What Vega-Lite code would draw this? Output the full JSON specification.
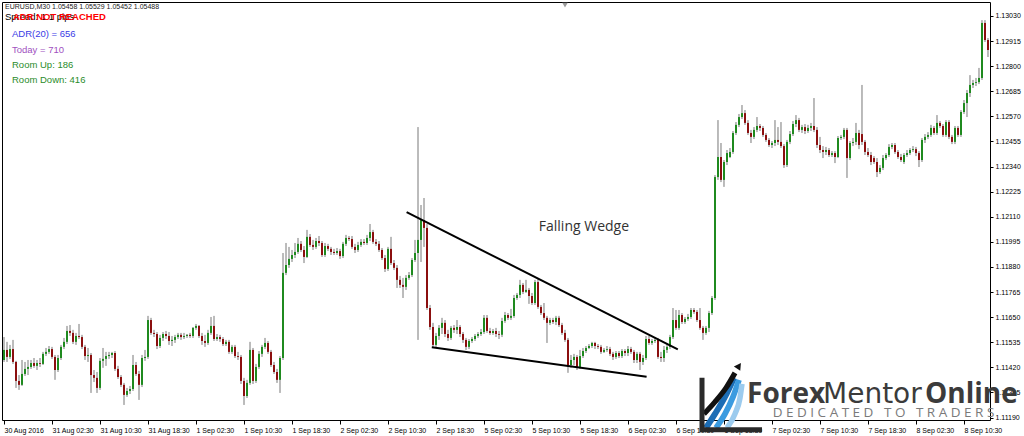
{
  "$schema": "https://vega.github.io/schema/vega-lite/v6.json",
  "width": 988,
  "height": 418,
  "autosize": {"type": "none"},
  "padding": {"left": 2, "top": 2, "right": 34, "bottom": 16},
  "background": "#ffffff",
  "config": {
    "view": {"stroke": "#000000", "strokeWidth": 1},
    "font": "Liberation Sans",
    "axis": {"labelOverlap": false, "labelFlush": false, "labelBound": false}
  },
  "datasets": {
    "candles": [
      {"i":0,"o":1.11454,"h":1.11559,"l":1.11445,"c":1.11500},
      {"i":1,"o":1.11500,"h":1.11537,"l":1.11445,"c":1.11468},
      {"i":2,"o":1.11468,"h":1.11523,"l":1.11459,"c":1.11504},
      {"i":3,"o":1.11504,"h":1.11546,"l":1.11436,"c":1.11445},
      {"i":4,"o":1.11445,"h":1.11450,"l":1.11326,"c":1.11358},
      {"i":5,"o":1.11358,"h":1.11385,"l":1.11317,"c":1.11340},
      {"i":6,"o":1.11340,"h":1.11454,"l":1.11335,"c":1.11390},
      {"i":7,"o":1.11390,"h":1.11445,"l":1.11381,"c":1.11413},
      {"i":8,"o":1.11413,"h":1.11454,"l":1.11385,"c":1.11422},
      {"i":9,"o":1.11422,"h":1.11454,"l":1.11413,"c":1.11440},
      {"i":10,"o":1.11440,"h":1.11463,"l":1.11418,"c":1.11427},
      {"i":11,"o":1.11427,"h":1.11454,"l":1.11408,"c":1.11440},
      {"i":12,"o":1.11440,"h":1.11463,"l":1.11422,"c":1.11436},
      {"i":13,"o":1.11436,"h":1.11491,"l":1.11431,"c":1.11482},
      {"i":14,"o":1.11482,"h":1.11509,"l":1.11472,"c":1.11491},
      {"i":15,"o":1.11491,"h":1.11518,"l":1.11482,"c":1.11504},
      {"i":16,"o":1.11504,"h":1.11514,"l":1.11459,"c":1.11468},
      {"i":17,"o":1.11468,"h":1.11477,"l":1.11363,"c":1.11408},
      {"i":18,"o":1.11408,"h":1.11477,"l":1.11399,"c":1.11463},
      {"i":19,"o":1.11463,"h":1.11523,"l":1.11454,"c":1.11514},
      {"i":20,"o":1.11514,"h":1.11555,"l":1.11504,"c":1.11537},
      {"i":21,"o":1.11537,"h":1.11610,"l":1.11527,"c":1.11587},
      {"i":22,"o":1.11587,"h":1.11614,"l":1.11564,"c":1.11578},
      {"i":23,"o":1.11578,"h":1.11592,"l":1.11527,"c":1.11537},
      {"i":24,"o":1.11537,"h":1.11578,"l":1.11523,"c":1.11564},
      {"i":25,"o":1.11564,"h":1.11619,"l":1.11550,"c":1.11559},
      {"i":26,"o":1.11559,"h":1.11569,"l":1.11504,"c":1.11514},
      {"i":27,"o":1.11514,"h":1.11523,"l":1.11454,"c":1.11472},
      {"i":28,"o":1.11472,"h":1.11509,"l":1.11445,"c":1.11477},
      {"i":29,"o":1.11477,"h":1.11486,"l":1.11303,"c":1.11385},
      {"i":30,"o":1.11385,"h":1.11408,"l":1.11353,"c":1.11372},
      {"i":31,"o":1.11372,"h":1.11399,"l":1.11303,"c":1.11326},
      {"i":32,"o":1.11326,"h":1.11463,"l":1.11317,"c":1.11450},
      {"i":33,"o":1.11450,"h":1.11509,"l":1.11418,"c":1.11459},
      {"i":34,"o":1.11459,"h":1.11491,"l":1.11427,"c":1.11472},
      {"i":35,"o":1.11472,"h":1.11491,"l":1.11459,"c":1.11477},
      {"i":36,"o":1.11477,"h":1.11491,"l":1.11463,"c":1.11486},
      {"i":37,"o":1.11486,"h":1.11495,"l":1.11404,"c":1.11413},
      {"i":38,"o":1.11413,"h":1.11427,"l":1.11367,"c":1.11376},
      {"i":39,"o":1.11376,"h":1.11385,"l":1.11330,"c":1.11340},
      {"i":40,"o":1.11340,"h":1.11349,"l":1.11248,"c":1.11294},
      {"i":41,"o":1.11294,"h":1.11326,"l":1.11285,"c":1.11312},
      {"i":42,"o":1.11312,"h":1.11335,"l":1.11298,"c":1.11321},
      {"i":43,"o":1.11321,"h":1.11477,"l":1.11312,"c":1.11431},
      {"i":44,"o":1.11431,"h":1.11445,"l":1.11381,"c":1.11390},
      {"i":45,"o":1.11390,"h":1.11404,"l":1.11271,"c":1.11340},
      {"i":46,"o":1.11340,"h":1.11477,"l":1.11330,"c":1.11463},
      {"i":47,"o":1.11463,"h":1.11500,"l":1.11450,"c":1.11468},
      {"i":48,"o":1.11468,"h":1.11656,"l":1.11459,"c":1.11637},
      {"i":49,"o":1.11637,"h":1.11647,"l":1.11569,"c":1.11578},
      {"i":50,"o":1.11578,"h":1.11592,"l":1.11559,"c":1.11573},
      {"i":51,"o":1.11573,"h":1.11582,"l":1.11504,"c":1.11518},
      {"i":52,"o":1.11518,"h":1.11569,"l":1.11509,"c":1.11555},
      {"i":53,"o":1.11555,"h":1.11582,"l":1.11541,"c":1.11573},
      {"i":54,"o":1.11573,"h":1.11587,"l":1.11550,"c":1.11564},
      {"i":55,"o":1.11564,"h":1.11582,"l":1.11523,"c":1.11541},
      {"i":56,"o":1.11541,"h":1.11564,"l":1.11518,"c":1.11546},
      {"i":57,"o":1.11546,"h":1.11569,"l":1.11532,"c":1.11559},
      {"i":58,"o":1.11559,"h":1.11578,"l":1.11550,"c":1.11569},
      {"i":59,"o":1.11569,"h":1.11578,"l":1.11546,"c":1.11559},
      {"i":60,"o":1.11559,"h":1.11578,"l":1.11550,"c":1.11564},
      {"i":61,"o":1.11564,"h":1.11573,"l":1.11555,"c":1.11569},
      {"i":62,"o":1.11569,"h":1.11578,"l":1.11555,"c":1.11564},
      {"i":63,"o":1.11564,"h":1.11605,"l":1.11555,"c":1.11601},
      {"i":64,"o":1.11601,"h":1.11619,"l":1.11592,"c":1.11610},
      {"i":65,"o":1.11610,"h":1.11614,"l":1.11555,"c":1.11564},
      {"i":66,"o":1.11564,"h":1.11578,"l":1.11523,"c":1.11541},
      {"i":67,"o":1.11541,"h":1.11569,"l":1.11514,"c":1.11532},
      {"i":68,"o":1.11532,"h":1.11592,"l":1.11523,"c":1.11578},
      {"i":69,"o":1.11578,"h":1.11651,"l":1.11569,"c":1.11610},
      {"i":70,"o":1.11610,"h":1.11656,"l":1.11541,"c":1.11550},
      {"i":71,"o":1.11550,"h":1.11573,"l":1.11541,"c":1.11559},
      {"i":72,"o":1.11559,"h":1.11569,"l":1.11537,"c":1.11550},
      {"i":73,"o":1.11550,"h":1.11559,"l":1.11518,"c":1.11527},
      {"i":74,"o":1.11527,"h":1.11546,"l":1.11518,"c":1.11537},
      {"i":75,"o":1.11537,"h":1.11546,"l":1.11482,"c":1.11491},
      {"i":76,"o":1.11491,"h":1.11523,"l":1.11482,"c":1.11514},
      {"i":77,"o":1.11514,"h":1.11523,"l":1.11463,"c":1.11472},
      {"i":78,"o":1.11472,"h":1.11491,"l":1.11454,"c":1.11468},
      {"i":79,"o":1.11468,"h":1.11477,"l":1.11344,"c":1.11358},
      {"i":80,"o":1.11358,"h":1.11372,"l":1.11248,"c":1.11289},
      {"i":81,"o":1.11289,"h":1.11363,"l":1.11280,"c":1.11349},
      {"i":82,"o":1.11349,"h":1.11537,"l":1.11340,"c":1.11500},
      {"i":83,"o":1.11500,"h":1.11509,"l":1.11344,"c":1.11358},
      {"i":84,"o":1.11358,"h":1.11436,"l":1.11349,"c":1.11422},
      {"i":85,"o":1.11422,"h":1.11495,"l":1.11413,"c":1.11482},
      {"i":86,"o":1.11482,"h":1.11523,"l":1.11468,"c":1.11514},
      {"i":87,"o":1.11514,"h":1.11555,"l":1.11504,"c":1.11532},
      {"i":88,"o":1.11532,"h":1.11541,"l":1.11482,"c":1.11491},
      {"i":89,"o":1.11491,"h":1.11500,"l":1.11422,"c":1.11431},
      {"i":90,"o":1.11431,"h":1.11445,"l":1.11390,"c":1.11399},
      {"i":91,"o":1.11399,"h":1.11413,"l":1.11349,"c":1.11363},
      {"i":92,"o":1.11363,"h":1.11472,"l":1.11303,"c":1.11463},
      {"i":93,"o":1.11463,"h":1.11944,"l":1.11454,"c":1.11853},
      {"i":94,"o":1.11853,"h":1.11990,"l":1.11843,"c":1.11889},
      {"i":95,"o":1.11889,"h":1.11972,"l":1.11876,"c":1.11917},
      {"i":96,"o":1.11917,"h":1.11958,"l":1.11903,"c":1.11935},
      {"i":97,"o":1.11935,"h":1.11990,"l":1.11921,"c":1.11949},
      {"i":98,"o":1.11949,"h":1.12013,"l":1.11940,"c":1.11986},
      {"i":99,"o":1.11986,"h":1.11999,"l":1.11949,"c":1.11958},
      {"i":100,"o":1.11958,"h":1.11976,"l":1.11898,"c":1.11926},
      {"i":101,"o":1.11926,"h":1.12050,"l":1.11921,"c":1.12018},
      {"i":102,"o":1.12018,"h":1.12031,"l":1.11972,"c":1.11981},
      {"i":103,"o":1.11981,"h":1.12004,"l":1.11958,"c":1.11972},
      {"i":104,"o":1.11972,"h":1.12013,"l":1.11963,"c":1.11999},
      {"i":105,"o":1.11999,"h":1.12022,"l":1.11976,"c":1.11990},
      {"i":106,"o":1.11990,"h":1.11999,"l":1.11926,"c":1.11935},
      {"i":107,"o":1.11935,"h":1.11990,"l":1.11926,"c":1.11976},
      {"i":108,"o":1.11976,"h":1.11986,"l":1.11953,"c":1.11963},
      {"i":109,"o":1.11963,"h":1.11972,"l":1.11935,"c":1.11949},
      {"i":110,"o":1.11949,"h":1.11963,"l":1.11935,"c":1.11944},
      {"i":111,"o":1.11944,"h":1.11967,"l":1.11935,"c":1.11953},
      {"i":112,"o":1.11953,"h":1.11963,"l":1.11917,"c":1.11930},
      {"i":113,"o":1.11930,"h":1.11995,"l":1.11921,"c":1.11986},
      {"i":114,"o":1.11986,"h":1.12027,"l":1.11976,"c":1.12013},
      {"i":115,"o":1.12013,"h":1.12022,"l":1.11999,"c":1.12008},
      {"i":116,"o":1.12008,"h":1.12022,"l":1.11963,"c":1.11972},
      {"i":117,"o":1.11972,"h":1.11986,"l":1.11944,"c":1.11958},
      {"i":118,"o":1.11958,"h":1.11995,"l":1.11949,"c":1.11981},
      {"i":119,"o":1.11981,"h":1.12008,"l":1.11972,"c":1.11995},
      {"i":120,"o":1.11995,"h":1.12008,"l":1.11981,"c":1.11990},
      {"i":121,"o":1.11990,"h":1.12027,"l":1.11981,"c":1.12013},
      {"i":122,"o":1.12013,"h":1.12077,"l":1.11999,"c":1.12040},
      {"i":123,"o":1.12040,"h":1.12050,"l":1.11986,"c":1.11995},
      {"i":124,"o":1.11995,"h":1.12008,"l":1.11976,"c":1.11986},
      {"i":125,"o":1.11986,"h":1.11999,"l":1.11949,"c":1.11958},
      {"i":126,"o":1.11958,"h":1.11967,"l":1.11912,"c":1.11921},
      {"i":127,"o":1.11921,"h":1.11935,"l":1.11857,"c":1.11871},
      {"i":128,"o":1.11871,"h":1.11972,"l":1.11862,"c":1.11963},
      {"i":129,"o":1.11963,"h":1.12018,"l":1.11889,"c":1.11898},
      {"i":130,"o":1.11898,"h":1.11912,"l":1.11866,"c":1.11876},
      {"i":131,"o":1.11876,"h":1.11889,"l":1.11784,"c":1.11821},
      {"i":132,"o":1.11821,"h":1.11839,"l":1.11784,"c":1.11798},
      {"i":133,"o":1.11798,"h":1.11830,"l":1.11738,"c":1.11789},
      {"i":134,"o":1.11789,"h":1.11843,"l":1.11775,"c":1.11830},
      {"i":135,"o":1.11830,"h":1.11857,"l":1.11821,"c":1.11843},
      {"i":136,"o":1.11843,"h":1.11921,"l":1.11834,"c":1.11912},
      {"i":137,"o":1.11912,"h":1.12004,"l":1.11903,"c":1.11944},
      {"i":138,"o":1.11944,"h":1.12521,"l":1.11546,"c":1.12004},
      {"i":139,"o":1.12004,"h":1.12164,"l":1.11903,"c":1.12095},
      {"i":140,"o":1.12095,"h":1.12196,"l":1.11972,"c":1.12059},
      {"i":141,"o":1.12059,"h":1.12077,"l":1.11683,"c":1.11692},
      {"i":142,"o":1.11692,"h":1.11706,"l":1.11592,"c":1.11605},
      {"i":143,"o":1.11605,"h":1.11624,"l":1.11509,"c":1.11523},
      {"i":144,"o":1.11523,"h":1.11578,"l":1.11514,"c":1.11564},
      {"i":145,"o":1.11564,"h":1.11614,"l":1.11546,"c":1.11601},
      {"i":146,"o":1.11601,"h":1.11647,"l":1.11573,"c":1.11624},
      {"i":147,"o":1.11624,"h":1.11637,"l":1.11559,"c":1.11573},
      {"i":148,"o":1.11573,"h":1.11592,"l":1.11541,"c":1.11555},
      {"i":149,"o":1.11555,"h":1.11610,"l":1.11546,"c":1.11601},
      {"i":150,"o":1.11601,"h":1.11614,"l":1.11578,"c":1.11592},
      {"i":151,"o":1.11592,"h":1.11637,"l":1.11573,"c":1.11605},
      {"i":152,"o":1.11605,"h":1.11614,"l":1.11559,"c":1.11573},
      {"i":153,"o":1.11573,"h":1.11582,"l":1.11532,"c":1.11546},
      {"i":154,"o":1.11546,"h":1.11555,"l":1.11500,"c":1.11514},
      {"i":155,"o":1.11514,"h":1.11550,"l":1.11504,"c":1.11541},
      {"i":156,"o":1.11541,"h":1.11559,"l":1.11532,"c":1.11550},
      {"i":157,"o":1.11550,"h":1.11573,"l":1.11541,"c":1.11564},
      {"i":158,"o":1.11564,"h":1.11582,"l":1.11555,"c":1.11573},
      {"i":159,"o":1.11573,"h":1.11596,"l":1.11564,"c":1.11582},
      {"i":160,"o":1.11582,"h":1.11660,"l":1.11573,"c":1.11647},
      {"i":161,"o":1.11647,"h":1.11660,"l":1.11578,"c":1.11587},
      {"i":162,"o":1.11587,"h":1.11601,"l":1.11569,"c":1.11578},
      {"i":163,"o":1.11578,"h":1.11596,"l":1.11569,"c":1.11587},
      {"i":164,"o":1.11587,"h":1.11601,"l":1.11559,"c":1.11573},
      {"i":165,"o":1.11573,"h":1.11587,"l":1.11550,"c":1.11569},
      {"i":166,"o":1.11569,"h":1.11647,"l":1.11559,"c":1.11633},
      {"i":167,"o":1.11633,"h":1.11674,"l":1.11624,"c":1.11660},
      {"i":168,"o":1.11660,"h":1.11669,"l":1.11637,"c":1.11647},
      {"i":169,"o":1.11647,"h":1.11688,"l":1.11637,"c":1.11656},
      {"i":170,"o":1.11656,"h":1.11752,"l":1.11647,"c":1.11738},
      {"i":171,"o":1.11738,"h":1.11761,"l":1.11729,"c":1.11752},
      {"i":172,"o":1.11752,"h":1.11821,"l":1.11738,"c":1.11798},
      {"i":173,"o":1.11798,"h":1.11807,"l":1.11756,"c":1.11766},
      {"i":174,"o":1.11766,"h":1.11821,"l":1.11761,"c":1.11775},
      {"i":175,"o":1.11775,"h":1.11784,"l":1.11711,"c":1.11747},
      {"i":176,"o":1.11747,"h":1.11761,"l":1.11706,"c":1.11715},
      {"i":177,"o":1.11715,"h":1.11821,"l":1.11706,"c":1.11811},
      {"i":178,"o":1.11811,"h":1.11825,"l":1.11688,"c":1.11697},
      {"i":179,"o":1.11697,"h":1.11706,"l":1.11660,"c":1.11669},
      {"i":180,"o":1.11669,"h":1.11715,"l":1.11637,"c":1.11647},
      {"i":181,"o":1.11647,"h":1.11656,"l":1.11532,"c":1.11624},
      {"i":182,"o":1.11624,"h":1.11647,"l":1.11614,"c":1.11637},
      {"i":183,"o":1.11637,"h":1.11647,"l":1.11619,"c":1.11628},
      {"i":184,"o":1.11628,"h":1.11656,"l":1.11614,"c":1.11647},
      {"i":185,"o":1.11647,"h":1.11656,"l":1.11605,"c":1.11614},
      {"i":186,"o":1.11614,"h":1.11624,"l":1.11569,"c":1.11578},
      {"i":187,"o":1.11578,"h":1.11592,"l":1.11537,"c":1.11546},
      {"i":188,"o":1.11546,"h":1.11555,"l":1.11395,"c":1.11431},
      {"i":189,"o":1.11431,"h":1.11477,"l":1.11418,"c":1.11454},
      {"i":190,"o":1.11454,"h":1.11482,"l":1.11431,"c":1.11468},
      {"i":191,"o":1.11468,"h":1.11477,"l":1.11408,"c":1.11422},
      {"i":192,"o":1.11422,"h":1.11500,"l":1.11413,"c":1.11472},
      {"i":193,"o":1.11472,"h":1.11509,"l":1.11463,"c":1.11495},
      {"i":194,"o":1.11495,"h":1.11518,"l":1.11486,"c":1.11509},
      {"i":195,"o":1.11509,"h":1.11527,"l":1.11504,"c":1.11518},
      {"i":196,"o":1.11518,"h":1.11537,"l":1.11509,"c":1.11532},
      {"i":197,"o":1.11532,"h":1.11537,"l":1.11504,"c":1.11518},
      {"i":198,"o":1.11518,"h":1.11527,"l":1.11504,"c":1.11514},
      {"i":199,"o":1.11514,"h":1.11523,"l":1.11482,"c":1.11491},
      {"i":200,"o":1.11491,"h":1.11509,"l":1.11486,"c":1.11500},
      {"i":201,"o":1.11500,"h":1.11518,"l":1.11491,"c":1.11504},
      {"i":202,"o":1.11504,"h":1.11514,"l":1.11472,"c":1.11482},
      {"i":203,"o":1.11482,"h":1.11491,"l":1.11454,"c":1.11468},
      {"i":204,"o":1.11468,"h":1.11495,"l":1.11459,"c":1.11486},
      {"i":205,"o":1.11486,"h":1.11495,"l":1.11463,"c":1.11472},
      {"i":206,"o":1.11472,"h":1.11504,"l":1.11463,"c":1.11495},
      {"i":207,"o":1.11495,"h":1.11504,"l":1.11472,"c":1.11486},
      {"i":208,"o":1.11486,"h":1.11518,"l":1.11472,"c":1.11504},
      {"i":209,"o":1.11504,"h":1.11514,"l":1.11482,"c":1.11491},
      {"i":210,"o":1.11491,"h":1.11500,"l":1.11440,"c":1.11454},
      {"i":211,"o":1.11454,"h":1.11491,"l":1.11440,"c":1.11482},
      {"i":212,"o":1.11482,"h":1.11491,"l":1.11408,"c":1.11445},
      {"i":213,"o":1.11445,"h":1.11477,"l":1.11431,"c":1.11463},
      {"i":214,"o":1.11463,"h":1.11564,"l":1.11454,"c":1.11550},
      {"i":215,"o":1.11550,"h":1.11564,"l":1.11523,"c":1.11532},
      {"i":216,"o":1.11532,"h":1.11550,"l":1.11523,"c":1.11541},
      {"i":217,"o":1.11541,"h":1.11559,"l":1.11532,"c":1.11546},
      {"i":218,"o":1.11546,"h":1.11555,"l":1.11459,"c":1.11468},
      {"i":219,"o":1.11468,"h":1.11491,"l":1.11445,"c":1.11463},
      {"i":220,"o":1.11463,"h":1.11518,"l":1.11445,"c":1.11500},
      {"i":221,"o":1.11500,"h":1.11532,"l":1.11486,"c":1.11514},
      {"i":222,"o":1.11514,"h":1.11569,"l":1.11504,"c":1.11559},
      {"i":223,"o":1.11559,"h":1.11692,"l":1.11550,"c":1.11637},
      {"i":224,"o":1.11637,"h":1.11683,"l":1.11592,"c":1.11601},
      {"i":225,"o":1.11601,"h":1.11683,"l":1.11592,"c":1.11660},
      {"i":226,"o":1.11660,"h":1.11669,"l":1.11619,"c":1.11628},
      {"i":227,"o":1.11628,"h":1.11651,"l":1.11619,"c":1.11642},
      {"i":228,"o":1.11642,"h":1.11665,"l":1.11633,"c":1.11651},
      {"i":229,"o":1.11651,"h":1.11692,"l":1.11642,"c":1.11683},
      {"i":230,"o":1.11683,"h":1.11692,"l":1.11665,"c":1.11674},
      {"i":231,"o":1.11674,"h":1.11683,"l":1.11628,"c":1.11637},
      {"i":232,"o":1.11637,"h":1.11692,"l":1.11592,"c":1.11601},
      {"i":233,"o":1.11601,"h":1.11610,"l":1.11546,"c":1.11578},
      {"i":234,"o":1.11578,"h":1.11610,"l":1.11569,"c":1.11601},
      {"i":235,"o":1.11601,"h":1.11679,"l":1.11582,"c":1.11669},
      {"i":236,"o":1.11669,"h":1.11747,"l":1.11660,"c":1.11738},
      {"i":237,"o":1.11738,"h":1.12301,"l":1.11729,"c":1.12292},
      {"i":238,"o":1.12292,"h":1.12553,"l":1.12279,"c":1.12384},
      {"i":239,"o":1.12384,"h":1.12448,"l":1.12269,"c":1.12279},
      {"i":240,"o":1.12279,"h":1.12370,"l":1.12247,"c":1.12361},
      {"i":241,"o":1.12361,"h":1.12416,"l":1.12347,"c":1.12402},
      {"i":242,"o":1.12384,"h":1.12425,"l":1.12379,"c":1.12407},
      {"i":243,"o":1.12407,"h":1.12503,"l":1.12398,"c":1.12494},
      {"i":244,"o":1.12494,"h":1.12544,"l":1.12485,"c":1.12531},
      {"i":245,"o":1.12531,"h":1.12581,"l":1.12521,"c":1.12567},
      {"i":246,"o":1.12567,"h":1.12622,"l":1.12558,"c":1.12585},
      {"i":247,"o":1.12585,"h":1.12599,"l":1.12531,"c":1.12540},
      {"i":248,"o":1.12540,"h":1.12553,"l":1.12485,"c":1.12494},
      {"i":249,"o":1.12494,"h":1.12508,"l":1.12448,"c":1.12476},
      {"i":250,"o":1.12476,"h":1.12521,"l":1.12466,"c":1.12508},
      {"i":251,"o":1.12508,"h":1.12567,"l":1.12498,"c":1.12526},
      {"i":252,"o":1.12526,"h":1.12535,"l":1.12503,"c":1.12517},
      {"i":253,"o":1.12517,"h":1.12526,"l":1.12476,"c":1.12485},
      {"i":254,"o":1.12485,"h":1.12494,"l":1.12453,"c":1.12462},
      {"i":255,"o":1.12462,"h":1.12471,"l":1.12430,"c":1.12439},
      {"i":256,"o":1.12439,"h":1.12457,"l":1.12425,"c":1.12448},
      {"i":257,"o":1.12448,"h":1.12553,"l":1.12434,"c":1.12462},
      {"i":258,"o":1.12462,"h":1.12521,"l":1.12439,"c":1.12453},
      {"i":259,"o":1.12453,"h":1.12544,"l":1.12425,"c":1.12434},
      {"i":260,"o":1.12434,"h":1.12443,"l":1.12334,"c":1.12347},
      {"i":261,"o":1.12347,"h":1.12462,"l":1.12338,"c":1.12453},
      {"i":262,"o":1.12453,"h":1.12503,"l":1.12443,"c":1.12489},
      {"i":263,"o":1.12489,"h":1.12549,"l":1.12480,"c":1.12535},
      {"i":264,"o":1.12535,"h":1.12576,"l":1.12521,"c":1.12553},
      {"i":265,"o":1.12553,"h":1.12563,"l":1.12498,"c":1.12508},
      {"i":266,"o":1.12508,"h":1.12531,"l":1.12494,"c":1.12521},
      {"i":267,"o":1.12521,"h":1.12535,"l":1.12489,"c":1.12503},
      {"i":268,"o":1.12503,"h":1.12531,"l":1.12494,"c":1.12517},
      {"i":269,"o":1.12517,"h":1.12540,"l":1.12503,"c":1.12526},
      {"i":270,"o":1.12526,"h":1.12654,"l":1.12498,"c":1.12508},
      {"i":271,"o":1.12508,"h":1.12521,"l":1.12425,"c":1.12439},
      {"i":272,"o":1.12439,"h":1.12476,"l":1.12402,"c":1.12416},
      {"i":273,"o":1.12416,"h":1.12434,"l":1.12379,"c":1.12407},
      {"i":274,"o":1.12407,"h":1.12430,"l":1.12393,"c":1.12416},
      {"i":275,"o":1.12416,"h":1.12425,"l":1.12384,"c":1.12393},
      {"i":276,"o":1.12393,"h":1.12411,"l":1.12384,"c":1.12402},
      {"i":277,"o":1.12402,"h":1.12411,"l":1.12356,"c":1.12384},
      {"i":278,"o":1.12384,"h":1.12480,"l":1.12379,"c":1.12471},
      {"i":279,"o":1.12471,"h":1.12485,"l":1.12462,"c":1.12476},
      {"i":280,"o":1.12476,"h":1.12517,"l":1.12466,"c":1.12508},
      {"i":281,"o":1.12508,"h":1.12517,"l":1.12288,"c":1.12379},
      {"i":282,"o":1.12379,"h":1.12457,"l":1.12370,"c":1.12448},
      {"i":283,"o":1.12448,"h":1.12471,"l":1.12434,"c":1.12453},
      {"i":284,"o":1.12453,"h":1.12540,"l":1.12439,"c":1.12494},
      {"i":285,"o":1.12494,"h":1.12508,"l":1.12420,"c":1.12439},
      {"i":286,"o":1.12489,"h":1.12714,"l":1.12439,"c":1.12453},
      {"i":287,"o":1.12453,"h":1.12462,"l":1.12393,"c":1.12407},
      {"i":288,"o":1.12407,"h":1.12425,"l":1.12384,"c":1.12393},
      {"i":289,"o":1.12393,"h":1.12407,"l":1.12347,"c":1.12361},
      {"i":290,"o":1.12379,"h":1.12388,"l":1.12352,"c":1.12361},
      {"i":291,"o":1.12361,"h":1.12379,"l":1.12292,"c":1.12315},
      {"i":292,"o":1.12315,"h":1.12347,"l":1.12306,"c":1.12334},
      {"i":293,"o":1.12334,"h":1.12393,"l":1.12324,"c":1.12379},
      {"i":294,"o":1.12379,"h":1.12402,"l":1.12370,"c":1.12393},
      {"i":295,"o":1.12393,"h":1.12443,"l":1.12384,"c":1.12430},
      {"i":296,"o":1.12430,"h":1.12448,"l":1.12420,"c":1.12439},
      {"i":297,"o":1.12439,"h":1.12448,"l":1.12398,"c":1.12407},
      {"i":298,"o":1.12407,"h":1.12416,"l":1.12375,"c":1.12384},
      {"i":299,"o":1.12384,"h":1.12398,"l":1.12361,"c":1.12370},
      {"i":300,"o":1.12361,"h":1.12402,"l":1.12352,"c":1.12393},
      {"i":301,"o":1.12393,"h":1.12416,"l":1.12384,"c":1.12402},
      {"i":302,"o":1.12402,"h":1.12425,"l":1.12393,"c":1.12416},
      {"i":303,"o":1.12416,"h":1.12434,"l":1.12407,"c":1.12420},
      {"i":304,"o":1.12420,"h":1.12430,"l":1.12388,"c":1.12402},
      {"i":305,"o":1.12402,"h":1.12411,"l":1.12338,"c":1.12370},
      {"i":306,"o":1.12370,"h":1.12471,"l":1.12361,"c":1.12462},
      {"i":307,"o":1.12462,"h":1.12489,"l":1.12448,"c":1.12476},
      {"i":308,"o":1.12476,"h":1.12498,"l":1.12466,"c":1.12485},
      {"i":309,"o":1.12485,"h":1.12531,"l":1.12476,"c":1.12517},
      {"i":310,"o":1.12517,"h":1.12526,"l":1.12485,"c":1.12494},
      {"i":311,"o":1.12494,"h":1.12576,"l":1.12485,"c":1.12540},
      {"i":312,"o":1.12540,"h":1.12549,"l":1.12517,"c":1.12526},
      {"i":313,"o":1.12526,"h":1.12535,"l":1.12476,"c":1.12485},
      {"i":314,"o":1.12485,"h":1.12553,"l":1.12476,"c":1.12544},
      {"i":315,"o":1.12544,"h":1.12553,"l":1.12466,"c":1.12476},
      {"i":316,"o":1.12476,"h":1.12485,"l":1.12443,"c":1.12453},
      {"i":317,"o":1.12453,"h":1.12526,"l":1.12443,"c":1.12517},
      {"i":318,"o":1.12517,"h":1.12526,"l":1.12476,"c":1.12485},
      {"i":319,"o":1.12485,"h":1.12599,"l":1.12476,"c":1.12590},
      {"i":320,"o":1.12590,"h":1.12645,"l":1.12581,"c":1.12631},
      {"i":321,"o":1.12631,"h":1.12691,"l":1.12567,"c":1.12677},
      {"i":322,"o":1.12677,"h":1.12759,"l":1.12659,"c":1.12714},
      {"i":323,"o":1.12714,"h":1.12737,"l":1.12700,"c":1.12723},
      {"i":324,"o":1.12723,"h":1.12746,"l":1.12709,"c":1.12727},
      {"i":325,"o":1.12727,"h":1.12792,"l":1.12718,"c":1.12746},
      {"i":326,"o":1.12746,"h":1.13011,"l":1.12737,"c":1.12998},
      {"i":327,"o":1.12998,"h":1.13011,"l":1.12911,"c":1.12920},
      {"i":328,"o":1.12920,"h":1.12929,"l":1.12842,"c":1.12874}
    ],
    "wedge": [
      {"side": "upper", "i": 134.2, "p": 1.12131},
      {"side": "upper", "i": 224.6, "p": 1.11503},
      {"side": "lower", "i": 142.6, "p": 1.11512},
      {"side": "lower", "i": 214.2, "p": 1.11377}
    ],
    "swoosh": [
      {"part": "dark", "k": 0, "i": 234.0, "p": 1.11143},
      {"part": "dark", "k": 1, "i": 237.0, "p": 1.11207},
      {"part": "dark", "k": 2, "i": 240.33, "p": 1.11285},
      {"part": "dark", "k": 3, "i": 243.33, "p": 1.11372},
      {"part": "mid", "k": 0, "i": 237.33, "p": 1.11143},
      {"part": "mid", "k": 1, "i": 240.33, "p": 1.11207},
      {"part": "mid", "k": 2, "i": 243.0, "p": 1.11285},
      {"part": "mid", "k": 3, "i": 245.0, "p": 1.11363},
      {"part": "light", "k": 0, "i": 241.0, "p": 1.11143},
      {"part": "light", "k": 1, "i": 243.67, "p": 1.11207},
      {"part": "light", "k": 2, "i": 245.33, "p": 1.11280},
      {"part": "light", "k": 3, "i": 246.0, "p": 1.11344},
      {"part": "arrow", "k": 0, "i": 233.33, "p": 1.11207},
      {"part": "arrow", "k": 1, "i": 237.0, "p": 1.11262},
      {"part": "arrow", "k": 2, "i": 240.67, "p": 1.11326},
      {"part": "arrow", "k": 3, "i": 243.67, "p": 1.11395},
      {"part": "frame", "k": 0, "i": 232.67, "p": 1.11372},
      {"part": "frame", "k": 1, "i": 232.67, "p": 1.11134},
      {"part": "frame", "k": 2, "i": 252.67, "p": 1.11134}
    ]
  },
  "layer": [
    {
      "data": {"name": "candles"},
      "mark": {"type": "rule", "color": "#787878", "strokeWidth": 1},
      "encoding": {
        "x": {
          "field": "i", "type": "quantitative", "title": null,
          "scale": {"domain": [-0.667, 328.667], "nice": false, "zero": false},
          "axis": {
            "orient": "bottom", "title": null, "grid": false, "domain": false,
            "values": [0,16,32,48,64,80,96,112,128,144,160,176,192,208,224,240,256,272,288,304,320],
            "tickCount": 40,
            "tickSize": 4, "tickColor": "#000000", "labelAlign": "left", "labelBaseline": "top",
            "labelPadding": 2, "labelDx": -1, "labelFontSize": 7, "labelFont": "Liberation Sans", "labelColor": "#000000",
            "labelOverlap": false, "labelFlush": false, "labelBound": false,
            "labelExpr": "['30 Aug 2016','31 Aug 02:30','31 Aug 10:30','31 Aug 18:30','1 Sep 02:30','1 Sep 10:30','1 Sep 18:30','2 Sep 02:30','2 Sep 10:30','2 Sep 18:30','5 Sep 02:30','5 Sep 10:30','5 Sep 18:30','6 Sep 02:30','6 Sep 10:30','6 Sep 18:30','7 Sep 02:30','7 Sep 10:30','7 Sep 18:30','8 Sep 02:30','8 Sep 10:30'][round(datum.value / 16)]"
          }
        },
        "y": {
          "field": "l", "type": "quantitative", "title": null,
          "scale": {"domain": [1.11179, 1.13094], "nice": false, "zero": false},
          "axis": {
            "orient": "right", "title": null, "grid": false, "domain": false,
            "values": [1.1119,1.11305,1.1142,1.11535,1.1165,1.11765,1.1188,1.11995,1.1211,1.12225,1.1234,1.12455,1.1257,1.12685,1.128,1.12915,1.1303],
            "tickCount": 40,
            "format": ".5f", "tickSize": 3, "tickColor": "#000000", "labelPadding": 2,
            "labelFontSize": 7, "labelFont": "Liberation Sans", "labelColor": "#000000",
            "labelOverlap": false, "labelFlush": false, "labelBound": false
          }
        },
        "y2": {"field": "h"}
      }
    },
    {
      "data": {"name": "candles"},
      "mark": {"type": "rule", "strokeWidth": 2, "strokeCap": "butt"},
      "encoding": {
        "x": {"field": "i", "type": "quantitative", "title": null},
        "y": {"field": "o", "type": "quantitative", "title": null},
        "y2": {"field": "c"},
        "color": {"condition": {"test": "datum.c >= datum.o", "value": "#1f8a1f"}, "value": "#8b0f0f"}
      }
    },
    {
      "data": {"name": "wedge"},
      "mark": {"type": "line", "color": "#000000", "strokeWidth": 2},
      "encoding": {
        "x": {"field": "i", "type": "quantitative", "title": null},
        "y": {"field": "p", "type": "quantitative", "title": null},
        "detail": {"field": "side"}
      }
    },
    {
      "data": {"values": [{"label": "Falling Wedge", "i": 193.3, "p": 1.12063}]},
      "mark": {"type": "text", "font": "Open Sans", "fontSize": 14, "color": "#333333", "align": "center", "baseline": "middle"},
      "encoding": {
        "x": {"field": "i", "type": "quantitative", "title": null},
        "y": {"field": "p", "type": "quantitative", "title": null},
        "text": {"field": "label"}
      }
    },
    {
      "data": {"values": [{"label": "EURUSD,M30  1.05458 1.05529 1.05452 1.05488", "i": 0.33, "p": 1.13071}]},
      "mark": {"type": "text", "font": "Liberation Sans", "fontSize": 7, "color": "#222222", "align": "left", "baseline": "middle"},
      "encoding": {
        "x": {"field": "i", "type": "quantitative", "title": null},
        "y": {"field": "p", "type": "quantitative", "title": null},
        "text": {"field": "label"}
      }
    },
    {
      "data": {"values": [{"label": "Spread: 1.1 pips", "i": 0.33, "p": 1.13025}]},
      "mark": {"type": "text", "font": "Liberation Sans", "fontSize": 9.5, "color": "#000000", "align": "left", "baseline": "middle"},
      "encoding": {
        "x": {"field": "i", "type": "quantitative", "title": null},
        "y": {"field": "p", "type": "quantitative", "title": null},
        "text": {"field": "label"}
      }
    },
    {
      "data": {"values": [{"label": "ADR NOT REACHED", "i": 3.0, "p": 1.13025}]},
      "mark": {"type": "text", "font": "Liberation Sans", "fontSize": 9.5, "fontWeight": "bold", "color": "#ff0000", "align": "left", "baseline": "middle"},
      "encoding": {
        "x": {"field": "i", "type": "quantitative", "title": null},
        "y": {"field": "p", "type": "quantitative", "title": null},
        "text": {"field": "label"}
      }
    },
    {
      "data": {"values": [{"label": "ADR(20) = 656", "i": 2.67, "p": 1.12947}]},
      "mark": {"type": "text", "font": "Liberation Sans", "fontSize": 9.5, "color": "#3a3ae6", "align": "left", "baseline": "middle"},
      "encoding": {
        "x": {"field": "i", "type": "quantitative", "title": null},
        "y": {"field": "p", "type": "quantitative", "title": null},
        "text": {"field": "label"}
      }
    },
    {
      "data": {"values": [{"label": "Today = 710", "i": 2.67, "p": 1.12874}]},
      "mark": {"type": "text", "font": "Liberation Sans", "fontSize": 9.5, "color": "#a050c0", "align": "left", "baseline": "middle"},
      "encoding": {
        "x": {"field": "i", "type": "quantitative", "title": null},
        "y": {"field": "p", "type": "quantitative", "title": null},
        "text": {"field": "label"}
      }
    },
    {
      "data": {"values": [{"label": "Room Up: 186", "i": 2.67, "p": 1.12805}, {"label": "Room Down: 416", "i": 2.67, "p": 1.12737}]},
      "mark": {"type": "text", "font": "Liberation Sans", "fontSize": 9.5, "color": "#2a8c2a", "align": "left", "baseline": "middle"},
      "encoding": {
        "x": {"field": "i", "type": "quantitative", "title": null},
        "y": {"field": "p", "type": "quantitative", "title": null},
        "text": {"field": "label"}
      }
    },
    {
      "data": {"values": [{"i": 187, "p": 1.1308}]},
      "mark": {"type": "point", "shape": "triangle-down", "filled": true, "size": 30, "color": "#9a9a9a", "opacity": 1},
      "encoding": {
        "x": {"field": "i", "type": "quantitative", "title": null},
        "y": {"field": "p", "type": "quantitative", "title": null}
      }
    },
    {
      "data": {"name": "swoosh"},
      "mark": {"type": "line", "interpolate": "monotone", "strokeCap": "butt", "clip": false},
      "encoding": {
        "x": {"field": "i", "type": "quantitative", "title": null},
        "y": {"field": "p", "type": "quantitative", "title": null},
        "order": {"field": "k"},
        "color": {"field": "part", "type": "nominal", "scale": {"domain": ["dark", "mid", "light", "arrow", "frame"], "range": ["#1c6db5", "#3b9be0", "#9ccbee", "#111111", "#2a2a2a"]}, "legend": null},
        "strokeWidth": {"field": "part", "type": "nominal", "scale": {"domain": ["dark", "mid", "light", "arrow", "frame"], "range": [6, 5, 4, 3, 5]}, "legend": null}
      }
    },
    {
      "data": {"values": [{"i": 245.0, "p": 1.11427}]},
      "mark": {"type": "point", "shape": "triangle-up", "filled": true, "size": 60, "angle": 35, "color": "#111111", "opacity": 1, "clip": false},
      "encoding": {
        "x": {"field": "i", "type": "quantitative", "title": null},
        "y": {"field": "p", "type": "quantitative", "title": null}
      }
    },
    {
      "data": {"values": [{"label": "Forex", "i": 247.67, "p": 1.11257}]},
      "mark": {"type": "text", "font": "Open Sans", "fontSize": 28, "fontWeight": "bold", "color": "#3b3b3b", "align": "left", "baseline": "alphabetic", "clip": false},
      "encoding": {
        "x": {"field": "i", "type": "quantitative", "title": null},
        "y": {"field": "p", "type": "quantitative", "title": null},
        "text": {"field": "label"}
      }
    },
    {
      "data": {"values": [{"label": "Mentor", "i": 273.0, "p": 1.11257}]},
      "mark": {"type": "text", "font": "DejaVu Sans", "fontSize": 28, "fontWeight": "normal", "color": "#3b3b3b", "align": "left", "baseline": "alphabetic", "clip": false},
      "encoding": {
        "x": {"field": "i", "type": "quantitative", "title": null},
        "y": {"field": "p", "type": "quantitative", "title": null},
        "text": {"field": "label"}
      }
    },
    {
      "data": {"values": [{"label": "Online", "i": 307.0, "p": 1.11257}]},
      "mark": {"type": "text", "font": "Open Sans", "fontSize": 28, "fontWeight": "bold", "color": "#3b3b3b", "align": "left", "baseline": "alphabetic", "clip": false},
      "encoding": {
        "x": {"field": "i", "type": "quantitative", "title": null},
        "y": {"field": "p", "type": "quantitative", "title": null},
        "text": {"field": "label"}
      }
    },
    {
      "data": {"values": [{"label": "D\u00a0E\u00a0D\u00a0I\u00a0C\u00a0A\u00a0T\u00a0E\u00a0D\u00a0\u00a0\u00a0T\u00a0O\u00a0\u00a0\u00a0T\u00a0R\u00a0A\u00a0D\u00a0E\u00a0R\u00a0S", "i": 293.17, "p": 1.11211}]},
      "mark": {"type": "text", "font": "Open Sans", "fontSize": 13.5, "color": "#7a7a7a", "align": "center", "baseline": "middle", "clip": false},
      "encoding": {
        "x": {"field": "i", "type": "quantitative", "title": null},
        "y": {"field": "p", "type": "quantitative", "title": null},
        "text": {"field": "label"}
      }
    }
  ]
}
